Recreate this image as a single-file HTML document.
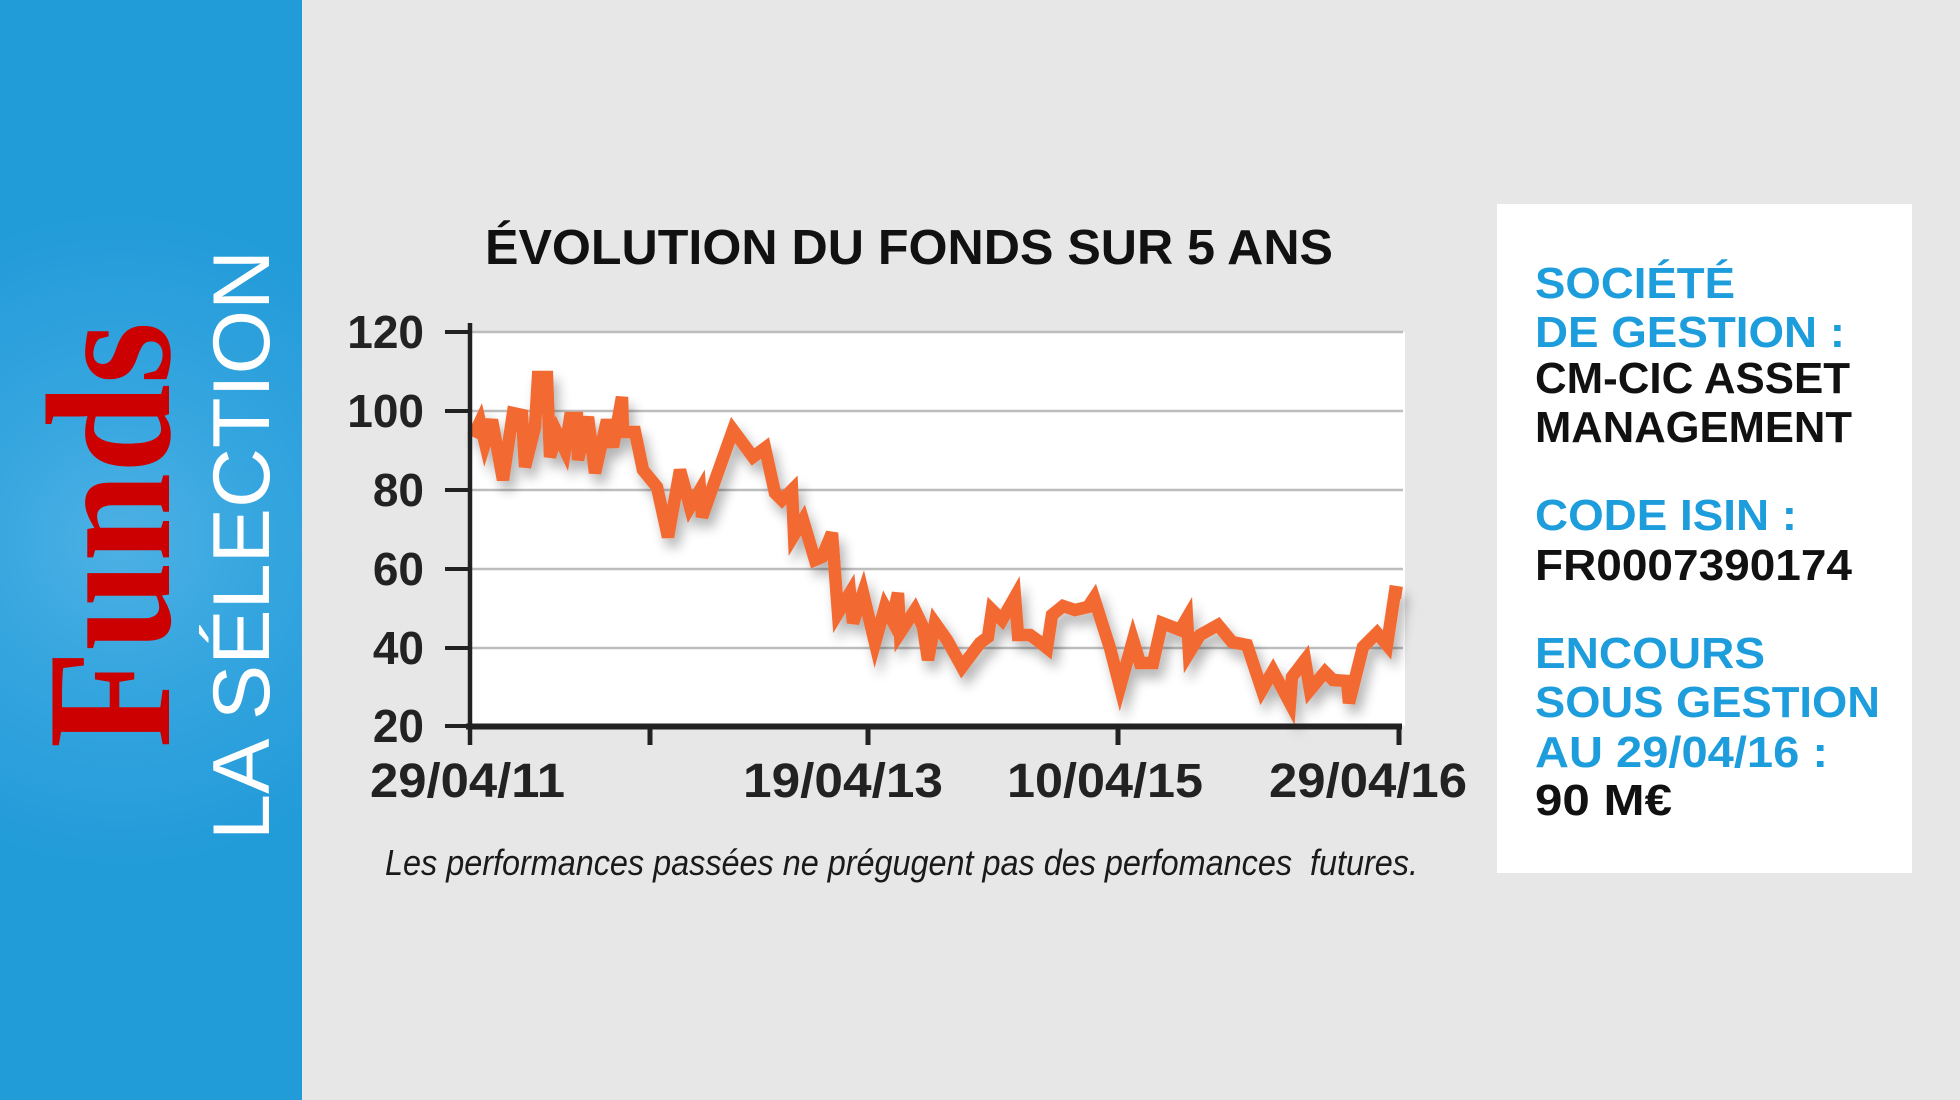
<!DOCTYPE html>
<html>
<head>
<meta charset="utf-8">
<style>
  html, body { margin:0; padding:0; background:#e7e7e7; }
  body { width:1960px; height:1100px; overflow:hidden; }
  svg { display:block; }
</style>
</head>
<body>
<svg width="1960" height="1100" viewBox="0 0 1960 1100" xmlns="http://www.w3.org/2000/svg">
  <defs>
    <radialGradient id="glow" cx="120" cy="540" r="330" gradientUnits="userSpaceOnUse">
      <stop offset="0" stop-color="#4db1e4"/>
      <stop offset="0.45" stop-color="#35a5df"/>
      <stop offset="1" stop-color="#229bd9"/>
    </radialGradient>
    <filter id="shadow" x="-10%" y="-20%" width="130%" height="150%">
      <feGaussianBlur in="SourceAlpha" stdDeviation="6"/>
      <feOffset dx="5" dy="9" result="b"/>
      <feComponentTransfer><feFuncA type="linear" slope="0.3"/></feComponentTransfer>
      <feMerge><feMergeNode/><feMergeNode in="SourceGraphic"/></feMerge>
    </filter>
  </defs>

  <!-- background -->
  <rect x="0" y="0" width="1960" height="1100" fill="#e7e7e7"/>

  <!-- left blue strip -->
  <rect x="0" y="0" width="302" height="1100" fill="#229bd9"/>
  <rect x="0" y="0" width="302" height="1100" fill="url(#glow)"/>

  <text transform="translate(169,748) rotate(-90)" x="0" y="0"
        font-family="'Liberation Serif', serif" font-weight="bold" font-size="178"
        fill="#cc0000" textLength="426" lengthAdjust="spacingAndGlyphs">Funds</text>
  <text transform="translate(269,840) rotate(-90)" x="0" y="0"
        font-family="'Liberation Sans', sans-serif" font-size="81"
        fill="#ffffff" textLength="590" lengthAdjust="spacingAndGlyphs">LA SÉLECTION</text>

  <!-- title -->
  <text x="485" y="264" font-family="'Liberation Sans', sans-serif" font-weight="bold"
        font-size="49" fill="#111" textLength="848" lengthAdjust="spacingAndGlyphs">ÉVOLUTION DU FONDS SUR 5 ANS</text>

  <!-- plot area -->
  <rect x="472" y="332" width="933" height="394" fill="#ffffff"/>
  <g stroke="#bdbdbd" stroke-width="2.6">
    <line x1="472" y1="332" x2="1403" y2="332"/>
    <line x1="472" y1="411" x2="1403" y2="411"/>
    <line x1="472" y1="490" x2="1403" y2="490"/>
    <line x1="472" y1="569" x2="1403" y2="569"/>
    <line x1="472" y1="648" x2="1403" y2="648"/>
  </g>

  <!-- series -->
  <polyline filter="url(#shadow)" fill="none" stroke="#f26a33" stroke-width="12.5"
            stroke-linejoin="miter" stroke-miterlimit="4"
            points="473,437 480,422 485,443 492,420 503,480 513,413 522,415 525,467 535,427 538,377 547,377 550,457 557,433 565,450 570,418 577,418 578,460 588,417 595,473 607,420 613,447 622,397 623,432 635,432 643,470 657,487 668,537 680,470 690,507 700,490 702,517 733,430 753,457 765,448 775,493 782,500 792,490 794,535 803,520 815,560 822,557 832,533 838,613 850,593 853,623 863,593 875,643 885,607 892,620 898,593 900,633 915,610 923,627 928,660 935,623 947,640 962,667 980,643 988,637 992,610 1002,620 1015,597 1018,635 1030,635 1037,640 1047,648 1052,615 1063,606 1075,610 1088,607 1094,598 1110,648 1120,687 1133,640 1140,663 1153,663 1162,623 1180,630 1187,618 1189,653 1200,635 1218,625 1232,642 1247,645 1262,690 1273,671 1290,703 1292,677 1305,660 1310,690 1325,672 1333,680 1347,681 1349,703 1363,647 1377,633 1387,645 1395,592 1402,593"/>

  <!-- axes -->
  <g stroke="#222" fill="none">
    <line x1="470" y1="323" x2="470" y2="745" stroke-width="4.5"/>
    <line x1="466" y1="726.5" x2="1402" y2="726.5" stroke-width="6"/>
    <g stroke-width="4">
      <line x1="445" y1="332" x2="470" y2="332"/>
      <line x1="445" y1="411" x2="470" y2="411"/>
      <line x1="445" y1="490" x2="470" y2="490"/>
      <line x1="445" y1="569" x2="470" y2="569"/>
      <line x1="445" y1="648" x2="470" y2="648"/>
      <line x1="445" y1="726" x2="470" y2="726"/>
    </g>
    <g stroke-width="5">
      <line x1="650" y1="726" x2="650" y2="745"/>
      <line x1="868" y1="726" x2="868" y2="745"/>
      <line x1="1118" y1="726" x2="1118" y2="745"/>
      <line x1="1399" y1="726" x2="1399" y2="745"/>
    </g>
  </g>

  <!-- y labels -->
  <g font-family="'Liberation Sans', sans-serif" font-weight="bold" font-size="46" fill="#222" text-anchor="end">
    <text x="424" y="348">120</text>
    <text x="424" y="427">100</text>
    <text x="424" y="506">80</text>
    <text x="424" y="585">60</text>
    <text x="424" y="664">40</text>
    <text x="424" y="742">20</text>
  </g>

  <!-- x labels -->
  <g font-family="'Liberation Sans', sans-serif" font-weight="bold" font-size="48" fill="#222">
    <text x="370" y="797" textLength="195" lengthAdjust="spacingAndGlyphs">29/04/11</text>
    <text x="743" y="797" textLength="200" lengthAdjust="spacingAndGlyphs">19/04/13</text>
    <text x="1007" y="797" textLength="196" lengthAdjust="spacingAndGlyphs">10/04/15</text>
    <text x="1269" y="797" textLength="198" lengthAdjust="spacingAndGlyphs">29/04/16</text>
  </g>

  <!-- footnote -->
  <text x="385" y="875" font-family="'Liberation Sans', sans-serif" font-style="italic"
        font-size="36" fill="#1a1a1a" textLength="1033" lengthAdjust="spacingAndGlyphs">Les performances passées ne prégugent pas des perfomances&#160; futures.</text>

  <!-- info box -->
  <rect x="1497" y="204" width="415" height="669" fill="#ffffff"/>
  <g font-family="'Liberation Sans', sans-serif" font-weight="bold" font-size="44">
    <text x="1535" y="298" fill="#1d9ddc" textLength="200" lengthAdjust="spacingAndGlyphs">SOCIÉTÉ</text>
    <text x="1535" y="347" fill="#1d9ddc" textLength="310" lengthAdjust="spacingAndGlyphs">DE GESTION :</text>
    <text x="1535" y="393" fill="#111" textLength="315" lengthAdjust="spacingAndGlyphs">CM-CIC ASSET</text>
    <text x="1535" y="442" fill="#111" textLength="317" lengthAdjust="spacingAndGlyphs">MANAGEMENT</text>
    <text x="1535" y="530" fill="#1d9ddc" textLength="262" lengthAdjust="spacingAndGlyphs">CODE ISIN :</text>
    <text x="1535" y="580" fill="#111" textLength="317" lengthAdjust="spacingAndGlyphs">FR0007390174</text>
    <text x="1535" y="668" fill="#1d9ddc" textLength="230" lengthAdjust="spacingAndGlyphs">ENCOURS</text>
    <text x="1535" y="717" fill="#1d9ddc" textLength="345" lengthAdjust="spacingAndGlyphs">SOUS GESTION</text>
    <text x="1535" y="767" fill="#1d9ddc" textLength="293" lengthAdjust="spacingAndGlyphs">AU 29/04/16 :</text>
    <text x="1535" y="815" fill="#111" textLength="137" lengthAdjust="spacingAndGlyphs">90 M€</text>
  </g>
</svg>
</body>
</html>
